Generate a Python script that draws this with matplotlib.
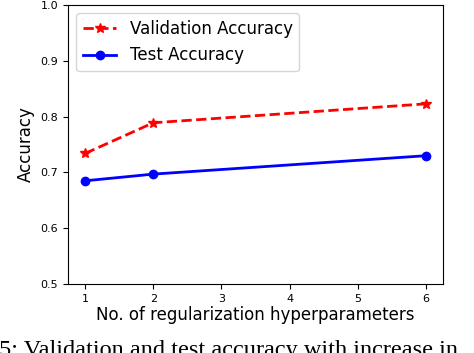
import matplotlib
matplotlib.use("Agg")
import matplotlib.pyplot as plt

n_params = [1, 2, 6]
val_acc = [0.734, 0.789, 0.823]
test_acc = [0.685, 0.697, 0.730]

fig = plt.figure(figsize=(4.74, 3.53), dpi=100)
ax = fig.add_axes([0.1435, 0.1955, 0.791, 0.790])

ax.plot(n_params, val_acc, 'r--', marker='*', markersize=7, linewidth=2,
        label='Validation Accuracy')
ax.plot(n_params, test_acc, 'b-', marker='o', markersize=6, linewidth=2,
        label='Test Accuracy')

ax.set_ylim(0.5, 1.0)
ax.set_yticks([0.5, 0.6, 0.7, 0.8, 0.9, 1.0])
ax.tick_params(labelsize=8)
ax.set_xlabel('No. of regularization hyperparameters', fontsize=12, labelpad=2)
ax.set_ylabel('Accuracy', fontsize=12)
ax.legend(loc='upper left', fontsize=12)

# caption from the paper, cut at the bottom edge like the source image
fig.text(-0.003, -0.008, '5: Validation and test accuracy with increase in',
         family='Liberation Serif', fontsize=17.5, ha='left', va='baseline')

fig.savefig('out.png', dpi=100)
